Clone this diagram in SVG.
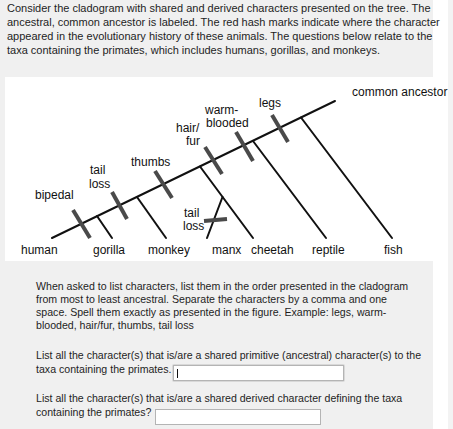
<svg xmlns="http://www.w3.org/2000/svg" width="453" height="429" viewBox="0 0 453 429">
<style>
text{font-family:"Liberation Sans",Arial,sans-serif;fill:#1e1e1e}
.p{font-size:11px}
.q{font-size:10.6px}
.l{font-size:12px;fill:#111}
.br{stroke:#111;stroke-width:2;stroke-linecap:round;fill:none}
.hm{stroke:#4a4a4a;stroke-width:4;stroke-linecap:butt;fill:none}
.panel{fill:#f0f0f0}
.box{fill:#fff;stroke:#b4b4b4;stroke-width:1}
</style>
<rect width="453" height="429" fill="#fff"/>
<rect class="panel" x="0" y="0" width="433" height="77"/>
<rect class="panel" x="0" y="77" width="5" height="184"/>
<rect class="panel" x="0" y="261" width="433" height="168"/>
<rect x="448" y="0" width="5" height="429" fill="#f3f3f3"/>

<g id="intro" class="p">
<text x="7" y="12">Consider the cladogram with shared and derived characters presented on the tree.  The</text>
<text x="7" y="26">ancestral, common ancestor is labeled.  The red hash marks indicate where the character</text>
<text x="7" y="40">appeared in the evolutionary history of these animals.  The questions below relate to the</text>
<text x="7" y="54">taxa containing the primates, which includes humans, gorillas, and monkeys.</text>
</g>

<g id="connectors">
<line class="br" x1="52" y1="238" x2="335" y2="101"/>
<line class="br" x1="97" y1="216" x2="112" y2="238"/>
<line class="br" x1="137" y1="197" x2="166" y2="238"/>
<line class="br" x1="200" y1="166.5" x2="253" y2="238"/>
<line class="br" x1="222.5" y1="197" x2="207" y2="238"/>
<line class="br" x1="253" y1="141" x2="326" y2="238"/>
<line class="br" x1="301" y1="117.5" x2="392" y2="238"/>
</g>

<g id="hash-marks">
<line class="hm" x1="73" y1="210" x2="90" y2="238"/>
<line class="hm" x1="112" y1="192" x2="127" y2="219"/>
<line class="hm" x1="155" y1="171" x2="172" y2="198"/>
<line class="hm" x1="205" y1="147" x2="222" y2="174"/>
<line class="hm" x1="236" y1="132" x2="253" y2="161"/>
<line class="hm" x1="272" y1="115" x2="288" y2="142"/>
<line class="hm" x1="204" y1="221" x2="227" y2="219"/>
</g>

<g id="node-common-ancestor"><text class="l" x="352" y="96">common ancestor</text></g>
<g id="char-legs"><text class="l" x="259" y="107">legs</text></g>
<g id="char-warm-blooded"><text class="l" x="205" y="114">warm-</text><text class="l" x="206" y="127">blooded</text></g>
<g id="char-hair-fur"><text class="l" x="176" y="132">hair/</text><text class="l" x="186" y="145">fur</text></g>
<g id="char-thumbs"><text class="l" x="131" y="166">thumbs</text></g>
<g id="char-tail-loss-primates"><text class="l" x="90" y="174">tail</text><text class="l" x="89" y="188">loss</text></g>
<g id="char-bipedal"><text class="l" x="35" y="199">bipedal</text></g>
<g id="char-tail-loss-manx"><text class="l" x="184" y="217">tail</text><text class="l" x="183" y="230">loss</text></g>

<g id="node-human"><text class="l" x="21" y="254">human</text></g>
<g id="node-gorilla"><text class="l" x="93" y="254">gorilla</text></g>
<g id="node-monkey"><text class="l" x="148" y="254">monkey</text></g>
<g id="node-manx"><text class="l" x="212" y="254">manx</text></g>
<g id="node-cheetah"><text class="l" x="251" y="254">cheetah</text></g>
<g id="node-reptile"><text class="l" x="312" y="254">reptile</text></g>
<g id="node-fish"><text class="l" x="384" y="254">fish</text></g>

<g id="instructions" class="q">
<text x="36" y="290">When asked to list characters, list them in the order presented in the cladogram</text>
<text x="36" y="303">from most to least ancestral.  Separate the characters by a comma and one</text>
<text x="36" y="316">space.  Spell them exactly as presented in the figure.  Example: legs, warm-</text>
<text x="36" y="329">blooded, hair/fur, thumbs, tail loss</text>
</g>

<g id="question-1" class="q">
<text x="36" y="359">List all the character(s) that is/are a shared primitive (ancestral) character(s) to the</text>
<text x="36" y="373">taxa containing the primates.</text>
<rect x="173" y="365" width="171" height="16" rx="1" fill="none" stroke="#d8d8d8" stroke-width="2"/>
<rect class="box" x="173.5" y="365.5" width="170" height="15" stroke="#999"/>
<line x1="177.5" y1="369" x2="177.5" y2="378" stroke="#111" stroke-width="1"/>
</g>

<g id="question-2" class="q">
<text x="36" y="402">List all the character(s) that is/are a shared derived character defining the taxa</text>
<text x="36" y="416">containing the primates?</text>
<rect class="box" x="155.5" y="409.5" width="165" height="15"/>
</g>
</svg>
